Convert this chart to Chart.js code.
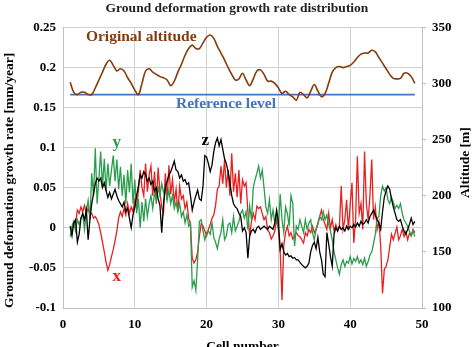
<!DOCTYPE html>
<html>
<head>
<meta charset="utf-8">
<script src="https://cdn.jsdelivr.net/npm/chart.js@4.4.1/dist/chart.umd.min.js"></script>
<style>
  html, body { margin: 0; padding: 0; background: #fff; overflow: hidden; }
  #wrap { width: 474px; height: 347px; overflow: hidden; }
  canvas { display: block; }
</style>
</head>
<body>
<div id="wrap"><canvas id="rateChart" width="474" height="358"></canvas></div>
<script>
// ─── DATA ───
// growth rate series are sampled every quarter cell, from cell 1 to cell 49
const rateCells = Array.from({ length: 193 }, (_, i) => 1 + i * 0.25);
// altitude profile is sampled every half cell
const altCells = Array.from({ length: 97 }, (_, i) => 1 + i * 0.5);

const xRate = [
    0.000, -0.003, 0.008, 0.005,   0.022, 0.018, 0.026, 0.020,
    0.028, 0.018, 0.024, 0.016,    0.018, 0.012, 0.014, 0.010,
    0.004, -0.006, -0.018, -0.030, -0.043, -0.053, -0.046, -0.036,
    -0.027, -0.016, -0.004, 0.012, 0.020, 0.014, 0.024, 0.016,
    0.030, 0.018, 0.026, 0.020,    0.034, 0.024, 0.046, 0.072,
    0.050, 0.040, 0.080, 0.045,    0.066, 0.077, 0.040, 0.070,
    0.030, 0.075, 0.045, 0.025,    0.018, 0.068, 0.035, 0.078,
    0.042, 0.060, 0.032, 0.048,    0.020, 0.052, 0.036, 0.040,
    0.024, 0.032, 0.012, 0.005,    -0.038, -0.044, -0.040, -0.030,
    -0.010, 0.005, 0.002, -0.004,  -0.010, -0.002, 0.004, 0.012,
    0.016, 0.028, 0.048, 0.052,    0.077, 0.055, 0.085, 0.050,
    0.072, 0.040, 0.093, 0.045,    0.068, 0.038, 0.072, 0.030,
    0.060, 0.052, 0.056, 0.020,    -0.010, 0.008, 0.018, 0.010,
    0.027, 0.024, 0.026, 0.018,    0.010, 0.014, -0.003, -0.006,
    -0.014, -0.010, -0.004, 0.010, -0.002, -0.030, -0.090, -0.022,
    -0.006, 0.002, -0.010, -0.006, -0.014, -0.010, -0.006, -0.010,
    -0.011, -0.015, -0.019, -0.006, -0.010, -0.002, -0.006, 0.002,
    -0.006, -0.002, 0.006, 0.014,  0.022, 0.010, 0.004, -0.002,
    0.018, 0.000, 0.010, -0.004,   0.004, -0.004, 0.002, 0.052,
    -0.002, 0.010, 0.035, -0.003,  0.030, 0.056, -0.019, 0.010,
    0.089, 0.018, 0.030, -0.002,   0.095, 0.030, 0.010, 0.040,
    0.085, 0.010, 0.026, -0.002,   0.008, -0.023, -0.082, -0.052,
    -0.048, -0.040, -0.024, -0.008, -0.015, -0.007, 0.001, -0.015,
    -0.010, -0.002, -0.011, -0.005, -0.015, -0.007, -0.010, -0.002,
    -0.006
];

const yRate = [
    -0.011, 0.002, 0.008, -0.004,  0.010, 0.004, 0.012, 0.016,
    -0.002, 0.020, 0.034, 0.010,   0.068, 0.040, 0.099, 0.030,
    0.062, 0.095, 0.050, 0.086,    0.046, 0.080, 0.052, 0.072,
    0.090, 0.058, 0.085, 0.048,    0.076, 0.040, 0.066, 0.030,
    0.072, 0.044, 0.080, 0.030,    0.060, 0.018, 0.036, 0.000,
    0.032, 0.008, 0.036, 0.014,    0.030, 0.040, 0.024, 0.044,
    0.034, 0.050, 0.040, 0.055,    0.044, 0.050, 0.034, 0.047,
    0.030, 0.040, 0.024, 0.032,    0.020, 0.030, 0.014, 0.020,
    0.006, 0.016, 0.002, 0.006,    -0.074, -0.066, -0.078, -0.040,
    0.008, 0.010, -0.004, -0.015,  -0.006, -0.004, -0.008, 0.006,
    -0.012, -0.018, -0.026, -0.014, -0.006, 0.010, -0.015, -0.010,
    0.004, 0.006, -0.006, 0.014,   -0.004, 0.002, 0.008, 0.018,
    0.022, 0.012, 0.020, -0.002,   0.027, 0.010, 0.050, 0.060,
    0.068, 0.077, 0.062, 0.072,    0.050, 0.026, 0.018, 0.035,
    0.010, 0.022, 0.006, 0.020,    -0.002, 0.042, 0.010, -0.006,
    0.026, 0.018, 0.002, 0.040,    0.030, -0.023, 0.002, -0.002,
    0.010, 0.002, -0.006, 0.010,   -0.002, 0.006, 0.010, -0.006,
    -0.015, -0.002, 0.004, 0.014,  0.010, 0.020, 0.010, 0.016,
    0.004, -0.004, -0.015, -0.030, -0.040, -0.050, -0.058, -0.046,
    -0.040, -0.048, -0.042, -0.044, -0.036, -0.045, -0.038, -0.042,
    -0.036, -0.044, -0.040, -0.046, -0.038, -0.048, -0.042, -0.034,
    -0.030, -0.020, -0.008, 0.012, 0.014, 0.040, 0.052, 0.046,
    0.050, 0.035, 0.030, 0.038,    0.032, 0.024, 0.028, 0.024,
    0.030, 0.018, 0.010, 0.006,    0.002, -0.004, -0.010, -0.004,
    -0.011
];

const zRate = [
    0.002, -0.010, 0.006, 0.010,   -0.018, -0.008, 0.012, 0.018,
    0.010, 0.022, -0.015, 0.010,   0.030, 0.042, 0.055, 0.062,
    0.058, 0.062, 0.050, 0.056,    0.046, 0.038, 0.044, 0.036,
    0.042, 0.048, 0.040, 0.034,    0.030, 0.026, 0.032, 0.020,
    0.024, 0.012, 0.000, 0.016,    0.026, 0.040, 0.052, 0.066,
    0.062, 0.070, 0.066, 0.058,    0.062, 0.054, 0.058, 0.046,
    0.050, 0.036, 0.028, -0.006,   0.030, 0.050, 0.058, 0.066,
    0.070, 0.076, 0.083, 0.072,    0.070, 0.062, 0.066, 0.058,
    0.060, 0.054, 0.056, 0.040,    0.022, 0.032, 0.040, 0.047,
    0.036, 0.034, 0.052, 0.090,    0.088, 0.080, 0.070, 0.078,
    0.095, 0.106, 0.112, 0.102,    0.110, 0.098, 0.086, 0.080,
    0.070, 0.056, 0.040, 0.030,    0.026, 0.024, 0.018, 0.014,
    -0.004, 0.000, -0.006, -0.038, -0.010, -0.004, -0.002, -0.006,
    0.000, 0.002, -0.002, 0.000,   0.002, 0.000, -0.002, 0.002,
    0.000, -0.002, 0.006, 0.022,   0.008, -0.027, -0.020, -0.030,
    -0.034, -0.032, -0.036, -0.035, -0.038, -0.037, -0.040, -0.040,
    -0.043, -0.046, -0.048, -0.050, -0.048, -0.044, -0.030, -0.022,
    -0.018, -0.026, -0.012, -0.030, -0.040, -0.058, -0.061, -0.006,
    -0.020, -0.036, -0.048, -0.008, 0.000, -0.004, 0.002, -0.002,
    0.000, -0.004, 0.002, -0.002,  0.002, 0.000, 0.004, 0.001,
    0.006, 0.002, 0.008, 0.004,    0.006, 0.010, 0.006, 0.014,
    0.018, 0.022, 0.016, 0.010,    0.006, -0.002, 0.020, 0.038,
    0.046, 0.052, 0.048, 0.036,    0.026, 0.018, 0.010, 0.008,
    0.010, 0.002, -0.004, -0.008,  -0.002, 0.004, 0.012, 0.004,
    0.008
];

const altitude = [
    301, 292, 290, 292, 292, 290, 290, 296, 303, 310,
    317, 320.5, 316, 311, 313, 311, 305, 300, 294, 290,
    300, 311, 313, 310, 308, 306, 305, 303, 298, 302,
    310, 317, 325, 331, 334, 331, 331, 336, 341, 343,
    340, 333, 327, 321, 314, 308, 303, 304, 309, 303,
    298, 304, 311, 312, 308, 302, 302, 300, 296, 291,
    293, 290, 288, 285, 292, 290, 287, 293, 299, 293,
    288, 291, 300, 310, 314, 315, 314, 315, 316, 319,
    323, 326, 327, 327, 329.5, 328, 323, 318, 313, 308,
    304.5, 304, 304.5, 309, 309, 306, 300
];

const referenceLevel = 290;
const refCells = [1, 49];

// ─── STYLE ───
const SERIF = '"Liberation Serif", "Times New Roman", serif';
Chart.defaults.font.family = SERIF;
Chart.defaults.font.weight = 'bold';
Chart.defaults.color = '#000';

const MAJOR_GRID = '#d2d2d2';
const MINOR_GRID = '#ececec';
const TICK_FONT = { family: SERIF, size: 13, weight: 'bold' };
const AXIS_FONT = { family: SERIF, size: 13.5, weight: 'bold' };

// free text labels placed in data coordinates
const notes = [
    { text: 'Original altitude', cell: 10.9, value: 341, axis: 'y2', color: '#843C0C', size: 15.5 },
    { text: 'Reference level', cell: 22.7, value: 282, axis: 'y2', color: '#4472C4', size: 15.5 },
    { text: 'y', cell: 7.5, value: 0.106, axis: 'y', color: '#2A9D4D', size: 17 },
    { text: 'z', cell: 19.8, value: 0.109, axis: 'y', color: '#000000', size: 17 },
    { text: 'x', cell: 7.5, value: -0.061, axis: 'y', color: '#E8201F', size: 17 }
];

const notePlugin = {
    id: 'notes',
    afterDatasetsDraw(chart) {
        const { ctx, scales } = chart;
        ctx.save();
        ctx.textAlign = 'center';
        ctx.textBaseline = 'middle';
        notes.forEach(n => {
            ctx.font = 'bold ' + n.size + 'px ' + SERIF;
            ctx.fillStyle = n.color;
            ctx.fillText(n.text, scales.x.getPixelForValue(n.cell), scales[n.axis].getPixelForValue(n.value));
        });
        // right axis title reads bottom to top, like the left one
        const r = scales.y2;
        ctx.translate(r.right - 8, (r.top + r.bottom) / 2 - 5);
        ctx.rotate(-Math.PI / 2);
        ctx.font = 'bold ' + AXIS_FONT.size + 'px ' + SERIF;
        ctx.fillStyle = '#000';
        ctx.fillText('Altitude [m]', 0, 0);
        ctx.restore();
    }
};

const toPoints = (cells, values) => values.map((v, i) => ({ x: cells[i], y: v }));

// ─── CREATE THE CHART ───
const ctx = document.getElementById('rateChart').getContext('2d');
new Chart(ctx, {
    type: 'line',
    data: {
        datasets: [
            { label: 'z', data: toPoints(rateCells, zRate), borderColor: '#000000', borderWidth: 1.3, yAxisID: 'y' },
            { label: 'y', data: toPoints(rateCells, yRate), borderColor: '#2A9D4D', borderWidth: 1.3, yAxisID: 'y' },
            { label: 'x', data: toPoints(rateCells, xRate), borderColor: '#E8201F', borderWidth: 1.3, yAxisID: 'y' },
            { label: 'Original altitude', data: toPoints(altCells, altitude), borderColor: '#843C0C', borderWidth: 1.6, tension: 0.35, yAxisID: 'y2' },
            { label: 'Reference level', data: refCells.map(c => ({ x: c, y: referenceLevel })), borderColor: '#4472C4', borderWidth: 1.8, yAxisID: 'y2' }
        ]
    },
    options: {
        responsive: false,
        animation: false,
        events: [],
        layout: { padding: 0 },
        elements: { point: { radius: 0 }, line: { tension: 0 } },
        plugins: {
            legend: { display: false },
            tooltip: { enabled: false },
            title: {
                display: true,
                text: 'Ground deformation growth rate distribution',
                color: '#222',
                font: { family: SERIF, size: 13.5, weight: 'bold' },
                padding: { top: 0, bottom: 11 }
            }
        },
        scales: {
            x: {
                type: 'linear',
                min: 0,
                max: 50,
                ticks: {
                    stepSize: 2,
                    autoSkip: false,
                    maxRotation: 0,
                    padding: 9,
                    font: TICK_FONT,
                    callback: v => (v % 10 === 0 ? String(v) : null)
                },
                grid: { drawTicks: false, color: c => (c.tick && c.tick.value % 10 === 0 ? MAJOR_GRID : MINOR_GRID) },
                border: { color: '#bfbfbf' },
                title: { display: true, text: 'Cell number', font: AXIS_FONT, padding: { top: 0, bottom: 3 } },
                afterFit: s => { s.height = 50; }
            },
            y: {
                position: 'left',
                min: -0.1,
                max: 0.25,
                ticks: {
                    stepSize: 0.01,
                    autoSkip: false,
                    padding: 7,
                    font: TICK_FONT,
                    callback: v => {
                        const r = Math.round(v * 100);
                        return r % 5 === 0 ? String(r / 100) : null;
                    }
                },
                grid: { drawTicks: false, color: c => (c.tick && Math.round(c.tick.value * 100) % 5 === 0 ? MAJOR_GRID : MINOR_GRID) },
                border: { color: '#bfbfbf' },
                title: { display: true, text: 'Ground deformation growth rate [mm/year]', align: 'start', font: AXIS_FONT, padding: { top: 1, bottom: 0 } },
                afterFit: s => { s.width = 63; }
            },
            y2: {
                position: 'right',
                min: 100,
                max: 350,
                ticks: { stepSize: 50, padding: 6, font: TICK_FONT },
                grid: { drawOnChartArea: false, tickLength: 4, color: '#bfbfbf' },
                border: { color: '#bfbfbf' },
                afterFit: s => { s.width = 52; }
            }
        }
    },
    plugins: [notePlugin]
});
</script>
</body>
</html>
